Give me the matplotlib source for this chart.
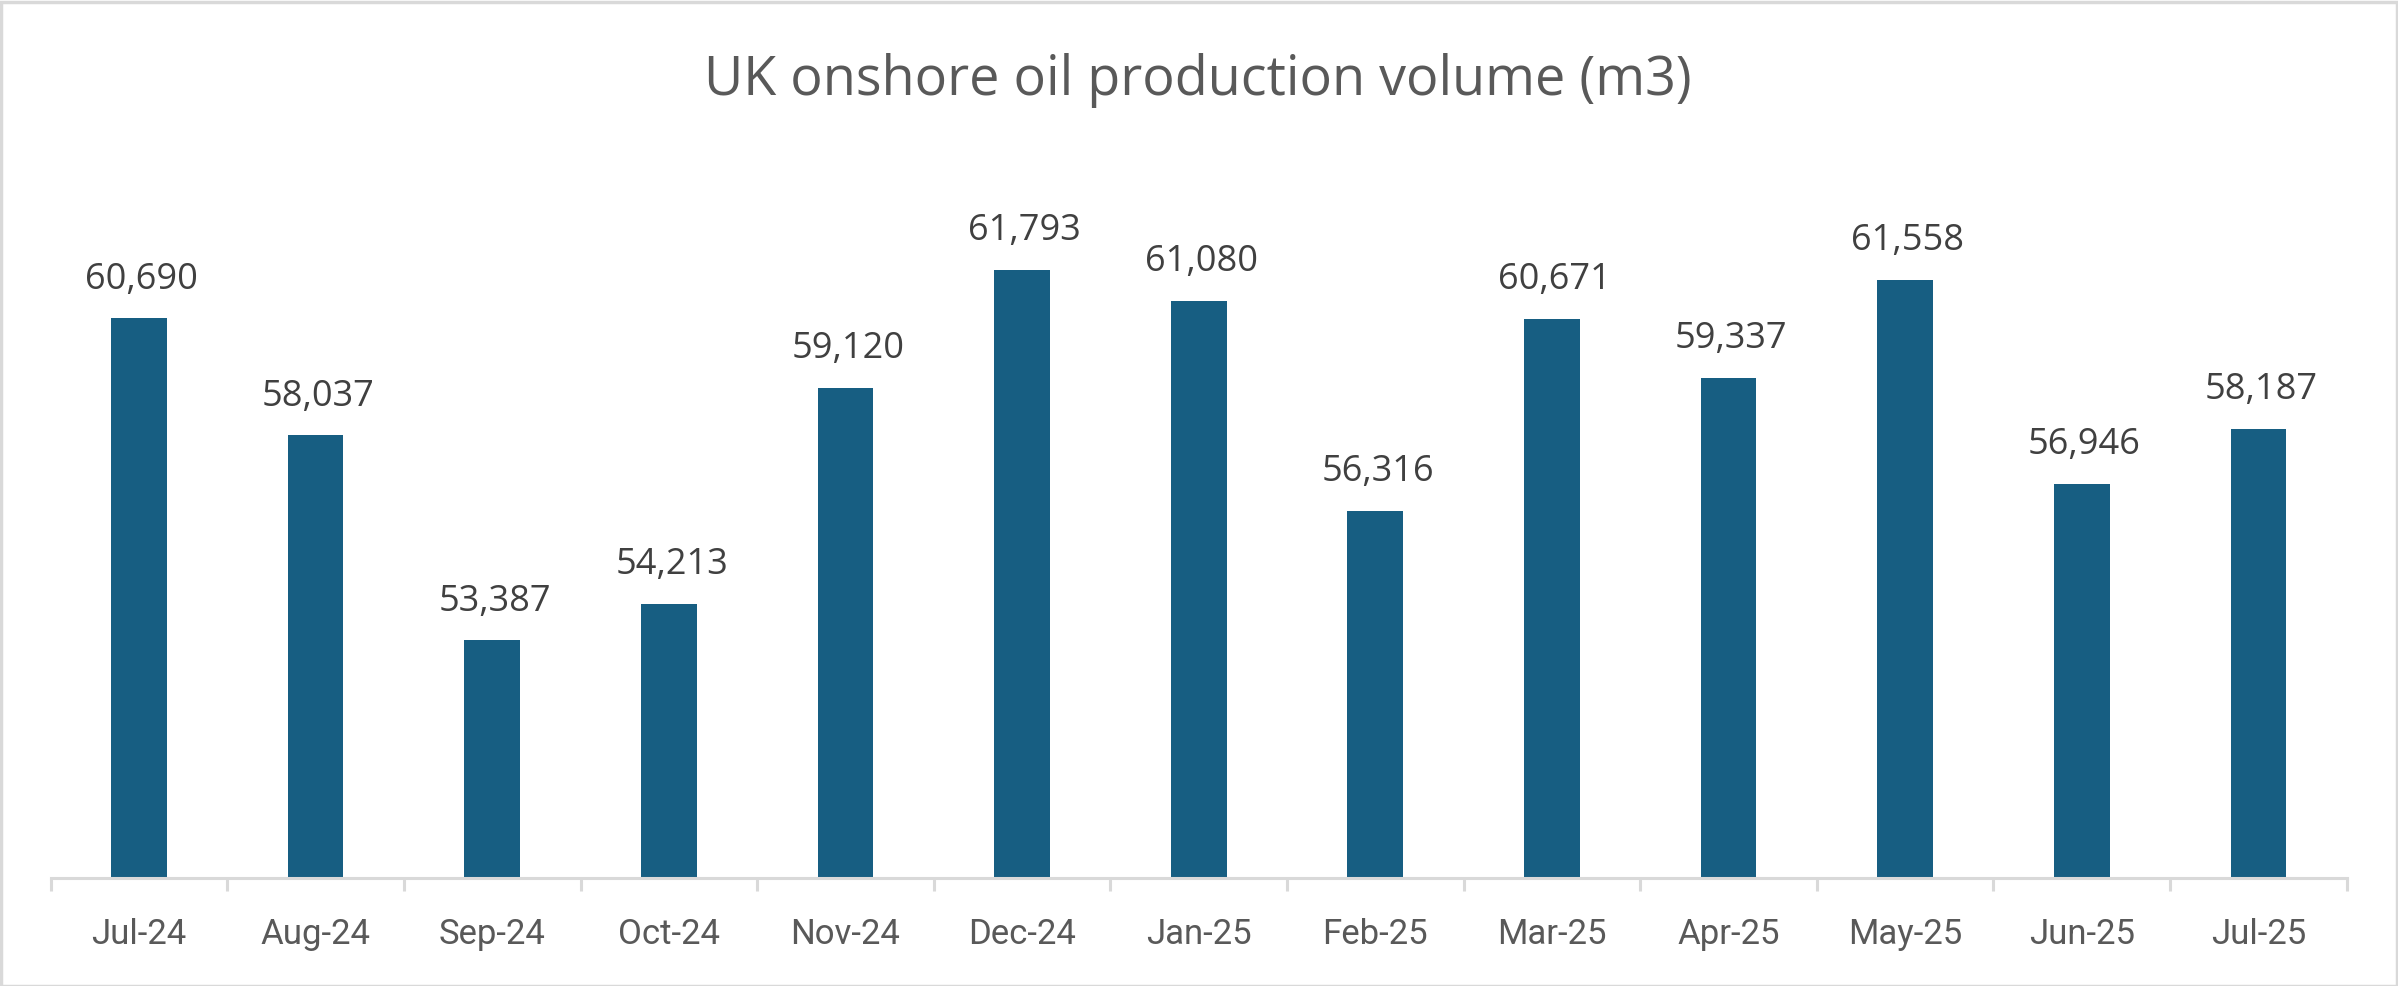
import matplotlib
matplotlib.use("Agg")
import matplotlib.pyplot as plt
from matplotlib.patches import Rectangle
from matplotlib.ticker import FixedLocator
import numpy as np

months = ["Jul-24", "Aug-24", "Sep-24", "Oct-24", "Nov-24", "Dec-24", "Jan-25",
          "Feb-25", "Mar-25", "Apr-25", "May-25", "Jun-25", "Jul-25"]
volumes = [60690, 58037, 53387, 54213, 59120, 61793, 61080,
           56316, 60671, 59337, 61558, 56946, 58187]
title = "UK onshore oil production volume (m3)"

W, H, DPI = 2398, 986, 100
fig = plt.figure(figsize=(W / DPI, H / DPI), dpi=DPI)
fig.patch.set_facecolor("white")

left_px, right_px = 50.7, 2346.7
base_px, top_px = 878.0, 172.5
ax = fig.add_axes([left_px / W, (H - base_px) / H,
                   (right_px - left_px) / W, (base_px - top_px) / H])

x = np.arange(len(months))
ax.bar(x, volumes, width=0.315, color="#175E82", zorder=2)
ax.set_xlim(-0.5, len(months) - 0.5)
ax.set_ylim(48000, 64000)

for xi, v in zip(x, volumes):
    ax.annotate(f"{v:,}", (xi, v), xytext=(2, 21.5), textcoords="offset points",
                ha="center", va="baseline", fontsize=26, color="#404040",
                family=["Open Sans", "DejaVu Sans"])

for s in ["top", "right", "left"]:
    ax.spines[s].set_visible(False)
ax.spines["bottom"].set_color("#d9d9d9")
ax.spines["bottom"].set_linewidth(2.2)
ax.set_yticks([])
ax.set_xticks(x)
ax.set_xticklabels(months, fontsize=25, color="#595959",
                   family=["Roboto", "Open Sans", "DejaVu Sans"])
ax.tick_params(axis="x", which="major", length=0, pad=28.5)
ax.xaxis.set_minor_locator(FixedLocator(np.arange(-0.5, len(months), 1.0)))
ax.tick_params(axis="x", which="minor", length=9, width=2.2, color="#d9d9d9")

fig.text(1198 / W, 1 - 95 / H, title, ha="center", va="baseline", fontsize=38.8,
         color="#595959", family=["Open Sans", "DejaVu Sans"])

fig.patches.append(Rectangle((0.5 / W, 0.5 / H), 1 - 2 / W, 1 - 2 / H,
                             transform=fig.transFigure, fill=False,
                             edgecolor="#d9d9d9", linewidth=2.5))

fig.savefig("out.png", dpi=DPI)
